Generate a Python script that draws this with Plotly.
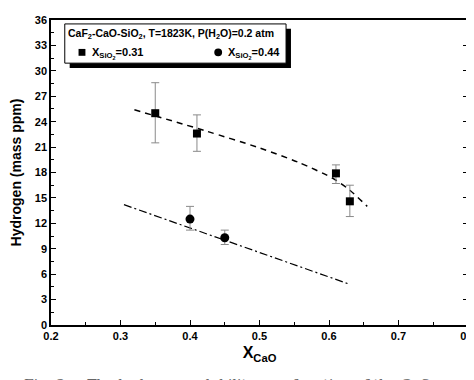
import plotly.graph_objects as go

# Data
x_sq = [0.35, 0.41, 0.61, 0.63]
y_sq = [25.0, 22.6, 17.9, 14.6]
err_sq_plus = [3.6, 2.2, 1.0, 1.9]
err_sq_minus = [3.5, 2.1, 1.2, 1.8]

x_ci = [0.40, 0.45]
y_ci = [12.5, 10.3]
err_ci_plus = [1.5, 0.9]
err_ci_minus = [1.3, 0.8]

fit1_x = [0.32, 0.423, 0.50, 0.556, 0.608, 0.63, 0.655]
fit1_y = [25.4, 22.9, 20.9, 19.2, 17.2, 15.9, 14.0]
fit2_x = [0.305, 0.63]
fit2_y = [14.2, 4.8]

y_ticks = [0, 3, 6, 9, 12, 15, 18, 21, 24, 27, 30, 33, 36]
x_ticks = [0.2, 0.3, 0.4, 0.5, 0.6, 0.7, 0.8]

legend_title = "CaF<sub>2</sub>-CaO-SiO<sub>2</sub>, T=1823K, P(H<sub>2</sub>O)=0.2 atm"
legend_labels = ["X<sub>SiO<sub>2</sub></sub>=0.31", "X<sub>SiO<sub>2</sub></sub>=0.44"]

font_family = "Liberation Sans, Arial, sans-serif"

W, H = 474, 380
ML, MR, MT, MB = 43, 7, 6, 63
PW, PH = W - ML - MR, H - MT - MB


def px(x):
    return (x - ML) / PW


def py(y):
    return (H - MB - y) / PH


fig = go.Figure()
fig.add_trace(go.Scatter(x=fit1_x, y=fit1_y, mode="lines",
                         line=dict(color="black", width=1.5, dash="6px,5px", shape="spline", smoothing=0.8),
                         showlegend=False))
fig.add_trace(go.Scatter(x=fit2_x, y=fit2_y, mode="lines",
                         line=dict(color="black", width=1.2, dash="8px,3px,2px,3px"),
                         showlegend=False))
fig.add_trace(go.Scatter(x=x_sq, y=y_sq, mode="markers", name=legend_labels[0], showlegend=False,
                         marker=dict(symbol="square", size=8, color="black"),
                         error_y=dict(type="data", array=err_sq_plus, arrayminus=err_sq_minus,
                                      color="#8a8a8a", thickness=1, width=4)))
fig.add_trace(go.Scatter(x=x_ci, y=y_ci, mode="markers", name=legend_labels[1], showlegend=False,
                         marker=dict(symbol="circle", size=9, color="black"),
                         error_y=dict(type="data", array=err_ci_plus, arrayminus=err_ci_minus,
                                      color="#8a8a8a", thickness=1, width=4)))
# invisible trace for right axis ticks
fig.add_trace(go.Scatter(x=[0.2], y=[0], yaxis="y2", mode="markers", marker=dict(opacity=0),
                         showlegend=False, hoverinfo="skip"))

shapes = [
    # legend shadow
    dict(type="rect", xref="paper", yref="paper", x0=px(62), x1=px(287), y0=py(55), y1=py(15),
         fillcolor="black", line=dict(width=0), layer="above"),
    # legend box
    dict(type="rect", xref="paper", yref="paper", x0=px(57), x1=px(282), y0=py(50), y1=py(10),
         fillcolor="white", line=dict(width=1, color="black"), layer="above"),
    # legend symbols
    dict(type="rect", xref="paper", yref="paper", x0=px(71), x1=px(78), y0=py(42.5), y1=py(35.5),
         fillcolor="black", line=dict(width=0), layer="above"),
    dict(type="circle", xref="paper", yref="paper", x0=px(209), x1=px(217), y0=py(43), y1=py(35),
         fillcolor="black", line=dict(width=0), layer="above"),
]

lfont = dict(family=font_family, size=11, color="black", weight="bold")
annotations = [
    dict(text=legend_title, xref="paper", yref="paper", x=px(58), y=py(20), xanchor="left", yanchor="middle",
         showarrow=False, font=dict(family=font_family, size=10.5, color="black", weight="bold")),
    dict(text=legend_labels[0], xref="paper", yref="paper", x=px(83), y=py(40), xanchor="left", yanchor="middle",
         showarrow=False, font=lfont),
    dict(text=legend_labels[1], xref="paper", yref="paper", x=px(221), y=py(40), xanchor="left", yanchor="middle",
         showarrow=False, font=lfont),
    dict(text="Fig. 3.    The hydrogen solubility as a function of the CaO",
         xref="paper", yref="paper", x=px(14), y=py(368), xanchor="left", yanchor="top",
         showarrow=False, font=dict(family="DejaVu Serif, serif", size=14, color="#666")),
]

fig.update_layout(
    width=W, height=H,
    margin=dict(l=ML, r=MR, t=MT, b=MB),
    paper_bgcolor="white", plot_bgcolor="white",
    font=dict(family=font_family, color="black"),
    showlegend=False,
    xaxis=dict(range=[0.2, 0.8], tickvals=x_ticks, ticktext=[f"{v:.1f}" for v in x_ticks],
               ticks="inside", ticklen=5, tickwidth=1.2, tickcolor="black",
               minor=dict(dtick=0.05, ticks="inside", ticklen=3, tickcolor="black"),
               showline=True, linecolor="black", linewidth=1.5, mirror=True,
               showgrid=False, zeroline=False,
               tickfont=dict(size=11, family=font_family, weight="bold"),
               title=dict(text="<b>X<sub>CaO</sub></b>", font=dict(size=16), standoff=6)),
    yaxis=dict(range=[0, 36], tickvals=y_ticks,
               ticks="inside", ticklen=5, tickwidth=1.2, tickcolor="black",
               minor=dict(dtick=1.5, ticks="inside", ticklen=3, tickcolor="black"),
               showline=True, linecolor="black", linewidth=1.5, mirror=True,
               showgrid=False, zeroline=False,
               tickfont=dict(size=11, family=font_family, weight="bold"),
               title=dict(text="<b>Hydrogen (mass ppm)</b>", font=dict(size=14), standoff=10)),
    yaxis2=dict(range=[0, 36], tickvals=y_ticks, overlaying="y", side="right",
                ticks="inside", ticklen=5, tickwidth=1.2, tickcolor="black",
                showticklabels=False, showgrid=False, zeroline=False, showline=False),
    shapes=shapes,
    annotations=annotations,
)

fig.write_html("out.html")
